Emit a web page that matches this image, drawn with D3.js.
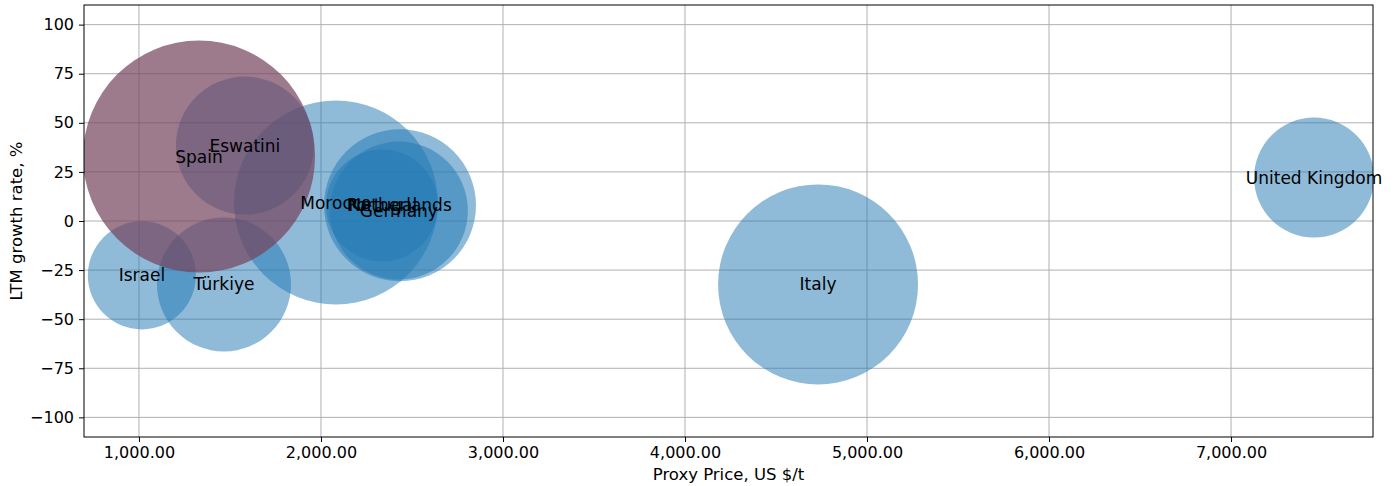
<!DOCTYPE html>
<html>
<head>
<meta charset="utf-8">
<script src="https://cdn.jsdelivr.net/npm/d3@7"></script>
<style>
  html, body { margin: 0; padding: 0; background: #fff; }
  svg { display: block; font-family: "DejaVu Sans", sans-serif; }
</style>
</head>
<body>
<svg id="chart" width="1394" height="486"></svg>
<script>
// ---- data ----
const countries = ["Eswatini", "Morocco", "Portugal", "Netherlands", "Germany", "Israel", "Türkiye", "Italy", "United Kingdom", "Spain"];
const proxyPrice = [1582, 2082, 2335, 2434, 2428, 1016, 1467, 4731, 7456, 1330];
const growthRate = [38.4, 9.4, 7.9, 8.0, 5.3, -27.7, -32.3, -32.3, 22.1, 32.8];
const bubbleSize = [476, 1040, 314, 578, 476, 292, 449, 1000, 360, 1346];
const highlighted = ["Spain"];
const xTicks = [1000, 2000, 3000, 4000, 5000, 6000, 7000];
const yTicks = [-100, -75, -50, -25, 0, 25, 50, 75, 100];

// ---- layout ----
const svg = d3.select("#chart");
const m = { left: 84, right: 1373, top: 5, bottom: 437 };

const x = d3.scaleLinear().domain([698, 7780]).range([m.left, m.right]);
const y = d3.scaleLinear().domain([-110, 110]).range([m.bottom, m.top]);
const r = d3.scaleSqrt().domain([0, d3.max(bubbleSize)]).range([0, 116]);

const fmtX = d3.format(",.2f");
const fmtY = v => (v < 0 ? "\u2212" + Math.abs(v) : String(v));

svg.append("defs").append("clipPath").attr("id", "clip")
  .append("rect").attr("x", m.left).attr("y", m.top)
  .attr("width", m.right - m.left).attr("height", m.bottom - m.top);

// grid
const grid = svg.append("g");
grid.selectAll(".gx").data(xTicks).join("line")
  .attr("x1", d => x(d)).attr("x2", d => x(d))
  .attr("y1", m.top).attr("y2", m.bottom)
  .attr("stroke", "#b0b0b0").attr("stroke-width", 1);
grid.selectAll(".gy").data(yTicks).join("line")
  .attr("y1", d => y(d)).attr("y2", d => y(d))
  .attr("x1", m.left).attr("x2", m.right)
  .attr("stroke", "#b0b0b0").attr("stroke-width", 1);

// bubbles
const data = countries.map((c, i) => ({ c, px: proxyPrice[i], g: growthRate[i], s: bubbleSize[i] }));
const gB = svg.append("g").attr("clip-path", "url(#clip)");
gB.selectAll("circle").data(data).join("circle")
  .attr("cx", d => x(d.px)).attr("cy", d => y(d.g)).attr("r", d => r(d.s))
  .attr("fill", d => highlighted.includes(d.c) ? "#74425b" : "#1f77b4")
  .attr("fill-opacity", d => highlighted.includes(d.c) ? 0.7 : 0.5);

// axes
const xAxis = svg.append("g").attr("transform", `translate(0,${m.bottom})`)
  .call(d3.axisBottom(x).tickValues(xTicks).tickFormat(fmtX).tickSize(5).tickPadding(5));
const yAxis = svg.append("g").attr("transform", `translate(${m.left},0)`)
  .call(d3.axisLeft(y).tickValues(yTicks).tickFormat(fmtY).tickSize(5).tickPadding(5));
[xAxis, yAxis].forEach(a => {
  a.select(".domain").remove();
  a.selectAll("text").attr("font-size", 16).attr("fill", "#000").attr("font-family", "DejaVu Sans");
  a.selectAll("line").attr("stroke", "#000");
});

// frame
svg.append("rect").attr("x", m.left).attr("y", m.top)
  .attr("width", m.right - m.left).attr("height", m.bottom - m.top)
  .attr("fill", "none").attr("stroke", "#000").attr("stroke-width", 1);

// labels (not clipped, drawn on top)
svg.append("g")
  .selectAll("text").data(data).join("text")
  .attr("x", d => x(d.px)).attr("y", d => y(d.g))
  .attr("text-anchor", "middle").attr("dominant-baseline", "central")
  .attr("font-size", 17).attr("fill", "#000")
  .text(d => d.c);

// axis titles
svg.append("text").attr("x", (m.left + m.right) / 2).attr("y", 480)
  .attr("text-anchor", "middle").attr("font-size", 16.5).text("Proxy Price, US $/t");
svg.append("text").attr("transform", `translate(22,${(m.top + m.bottom) / 2}) rotate(-90)`)
  .attr("text-anchor", "middle").attr("font-size", 16.5).text("LTM growth rate, %");
</script>
</body>
</html>
